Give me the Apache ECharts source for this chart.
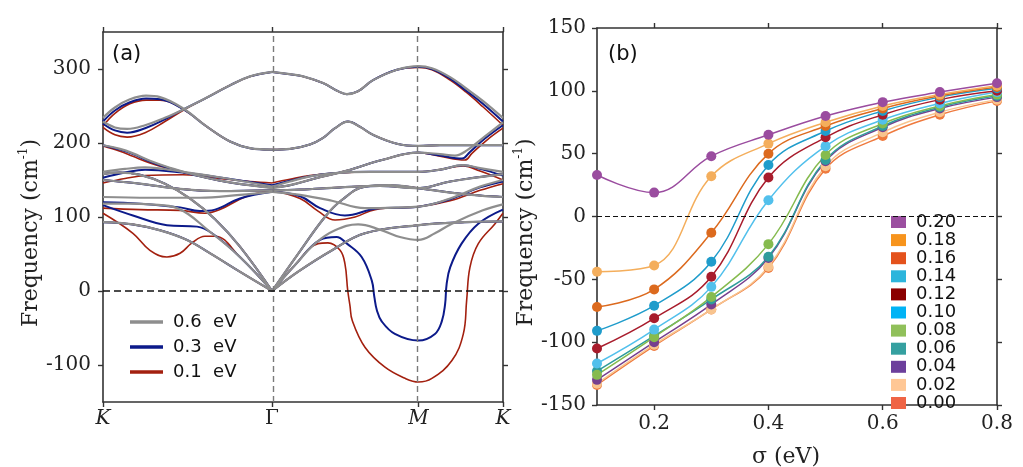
<!DOCTYPE html>
<html>
<head>
<meta charset="utf-8">
<script src="https://cdn.jsdelivr.net/npm/echarts@6/dist/echarts.min.js"></script>
<style>
  html, body { margin: 0; padding: 0; background: #fff; }
  #chart { width: 1023px; height: 467px; }
</style>
</head>
<body>
<div id="chart"></div>
<script>
// ---- (a) phonon bands along K-Γ-M-K, q in units of 2π/a ----
const qTicks = [0, 0.6667, 1.2440, 1.5774];
const qLabels = ['K', 'Γ', 'M', 'K'];
const freqTicksA = [-100, 0, 100, 200, 300];
const dopingA = ['0.6  eV', '0.3  eV', '0.1  eV'];

// bands shared by all three doping levels
const grayZA = [[0,93],[0.118,90],[0.225,82],[0.331,69],[0.422,51],[0.540,26],[0.667,0],[0.769,26],[0.903,55],[1.033,78],[1.244,89],[1.427,93],[1.577,94]];
const grayLA = [[0,158],[0.067,160],[0.146,157],[0.244,145],[0.343,125],[0.442,97],[0.540,60],[0.667,0],[0.769,50],[0.875,100],[0.942,123],[1.033,141],[1.132,143],[1.244,139],[1.369,133],[1.487,129],[1.577,127]];
const grayB9 = [[0,150],[0.146,145],[0.304,138],[0.461,135],[0.667,136],[0.777,137],[0.935,140],[1.092,142],[1.244,139],[1.369,148],[1.577,158]];

// 0.6 eV
const grayTA = [[0,118],[0.106,118],[0.185,117],[0.292,112],[0.422,80],[0.540,46],[0.667,0],[0.757,35],[0.836,64],[0.915,82],[1.006,90],[1.092,83],[1.171,73],[1.244,69],[1.309,78],[1.376,91],[1.498,109],[1.577,117]];
const grayB4 = [[0,127],[0.185,126],[0.382,126],[0.540,130],[0.667,134],[0.777,130],[0.903,122],[1.033,112],[1.244,114],[1.369,125],[1.487,141],[1.577,150]];
const grayB5 = [[0,161],[0.087,165],[0.166,167],[0.315,161],[0.489,152],[0.667,141],[0.737,148],[0.816,155],[0.903,159],[1.053,161],[1.244,161],[1.329,164],[1.420,170],[1.487,166],[1.577,161]];
const grayMid = [[0,197],[0.067,192],[0.118,186],[0.185,176],[0.252,168],[0.382,155],[0.513,146],[0.667,139],[0.737,143],[0.836,152],[0.966,163],[1.100,177],[1.244,187],[1.329,185],[1.388,183],[1.435,190],[1.506,209],[1.577,228]];
const grayUpper = [[0,234],[0.047,248],[0.106,259],[0.170,264],[0.225,262],[0.315,247],[0.410,222],[0.501,202],[0.580,193],[0.667,191],[0.737,192],[0.816,198],[0.868,207],[0.915,220],[0.966,229],[1.013,222],[1.065,211],[1.159,199],[1.244,196],[1.329,197],[1.447,197],[1.577,197]];
const grayTop = [[0,229],[0.047,221],[0.095,219],[0.166,224],[0.244,234],[0.315,245],[0.402,260],[0.501,278],[0.580,290],[0.667,296],[0.737,293],[0.789,290],[0.868,281],[0.927,270],[0.962,266],[1.006,270],[1.065,285],[1.159,299],[1.244,304],[1.297,301],[1.369,289],[1.431,274],[1.498,257],[1.577,234]];

// 0.3 eV
const blueTA = [[0,116],[0.118,102],[0.252,89],[0.371,87],[0.430,78],[0.540,46],[0.667,0],[0.757,35],[0.856,69],[0.921,73],[0.962,64],[1.020,46],[1.060,14],[1.070,-8],[1.080,-26],[1.099,-41],[1.151,-58],[1.244,-67],[1.309,-58],[1.336,-41],[1.349,-18],[1.355,9],[1.369,32],[1.414,64],[1.480,91],[1.577,110]];
const blueB4 = [[0,120],[0.146,118],[0.304,113],[0.382,108],[0.442,110],[0.540,125],[0.667,134],[0.777,128],[0.856,112],[0.954,102],[1.073,111],[1.244,114],[1.369,124],[1.487,140],[1.577,148]];
const blueB5 = [[0,153],[0.087,160],[0.166,164],[0.315,160],[0.489,152],[0.667,143],[0.737,149],[0.816,155],[0.903,159],[1.053,161],[1.244,161],[1.329,164],[1.420,170],[1.487,165],[1.577,156]];
const blueMid = [[0,197],[0.067,191],[0.118,185],[0.185,175],[0.252,167],[0.382,155],[0.513,146],[0.667,140],[0.737,143],[0.836,152],[0.966,163],[1.100,177],[1.244,187],[1.329,183],[1.416,179],[1.447,188],[1.506,206],[1.577,224]];
const blueUpper = [[0,229],[0.047,244],[0.106,255],[0.170,260],[0.225,259],[0.315,246],[0.410,222],[0.501,202],[0.580,193],[0.667,191],[0.737,192],[0.816,198],[0.868,207],[0.915,220],[0.966,229],[1.013,222],[1.065,211],[1.159,199],[1.244,196],[1.329,197],[1.447,197],[1.577,197]];
const blueTop = [[0,226],[0.047,217],[0.095,214],[0.166,220],[0.244,232],[0.315,245],[0.402,260],[0.501,278],[0.580,290],[0.667,296],[0.737,293],[0.789,290],[0.868,281],[0.927,270],[0.962,266],[1.006,270],[1.065,285],[1.159,299],[1.244,303],[1.297,300],[1.369,287],[1.431,271],[1.498,253],[1.577,229]];

// 0.1 eV
const redTA = [[0,105],[0.118,78],[0.185,55],[0.252,46],[0.304,51],[0.351,65],[0.402,74],[0.442,74],[0.540,46],[0.667,0],[0.757,35],[0.848,64],[0.887,65],[0.935,55],[0.954,37],[0.965,1],[0.974,-20],[0.983,-40],[1.033,-76],[1.112,-103],[1.191,-118],[1.244,-123],[1.297,-118],[1.376,-94],[1.421,-58],[1.434,-13],[1.447,32],[1.480,64],[1.546,91],[1.577,105]];
const redB4 = [[0,112],[0.146,110],[0.304,109],[0.402,105],[0.461,110],[0.560,127],[0.667,136],[0.777,125],[0.848,108],[0.915,96],[0.994,100],[1.073,110],[1.244,114],[1.369,122],[1.487,136],[1.577,145]];
const redB5 = [[0,146],[0.087,152],[0.166,156],[0.315,157],[0.489,151],[0.580,148],[0.667,146],[0.737,151],[0.816,156],[0.903,159],[1.053,161],[1.244,161],[1.329,164],[1.420,169],[1.487,162],[1.577,150]];
const redMid = [[0,196],[0.067,189],[0.118,182],[0.185,173],[0.252,166],[0.382,155],[0.513,146],[0.667,140],[0.737,143],[0.836,152],[0.966,163],[1.100,177],[1.244,187],[1.329,182],[1.427,177],[1.455,186],[1.514,204],[1.577,220]];
const redUpper = [[0,223],[0.047,240],[0.106,253],[0.170,258],[0.225,258],[0.315,246],[0.410,222],[0.501,202],[0.580,193],[0.667,191],[0.737,192],[0.816,198],[0.868,207],[0.915,220],[0.966,229],[1.013,222],[1.065,211],[1.159,199],[1.244,196],[1.329,197],[1.447,197],[1.577,197]];
const redTop = [[0,221],[0.047,211],[0.095,208],[0.166,214],[0.244,229],[0.315,244],[0.402,260],[0.501,278],[0.580,290],[0.667,296],[0.737,293],[0.789,290],[0.868,281],[0.927,270],[0.962,266],[1.006,270],[1.065,285],[1.159,299],[1.244,302],[1.297,299],[1.369,285],[1.431,269],[1.498,249],[1.577,224]];

const grayBands = [grayZA, grayTA, grayLA, grayB4, grayB9, grayB5, grayMid, grayUpper, grayTop];
const blueBands = [grayZA, blueTA, grayLA, blueB4, grayB9, blueB5, blueMid, blueUpper, blueTop];
const redBands = [grayZA, redTA, grayLA, redB4, grayB9, redB5, redMid, redUpper, redTop];

// ---- (b) soft-mode frequency vs smearing ----
const sigma = [0.1, 0.2, 0.3, 0.4, 0.5, 0.6, 0.7, 0.8];
const sigmaTicks = [0.2, 0.4, 0.6, 0.8];
const f000 = [-134, -103, -74, -41, 38, 64, 81, 92];
const f002 = [-133, -102, -74, -40, 40, 67, 83, 93];
const f004 = [-130, -100, -70, -33, 44, 71, 86, 95];
const f006 = [-123, -95, -66, -32, 45, 72, 87, 96];
const f008 = [-126, -96, -64, -22, 49, 74, 88, 97];
const f010 = [-117, -90, -56, 13, 56, 77, 90, 99];
const f012 = [-105, -81, -48, 31, 63, 81, 93, 100];
const f014 = [-91, -71, -36, 41, 68, 84, 95, 102];
const f016 = [-72, -58, -13, 50, 72, 86, 96, 103];
const f018 = [-44, -39, 32, 58, 75, 88, 97, 104];
const f020 = [33, 19, 48, 65, 80, 91, 99, 106];
const dopingB = ['0.00', '0.02', '0.04', '0.06', '0.08', '0.10', '0.12', '0.14', '0.16', '0.18', '0.20'];
const seriesB = [f000, f002, f004, f006, f008, f010, f012, f014, f016, f018, f020];
const lineColB = ['#ef7a3e', '#f8c48e', '#76408f', '#2f9c9c', '#86bb4f', '#52c0ec', '#a81c2c', '#1f9ccb', '#dc6a1e', '#f4ae5c', '#9a4c9f'];
const swatchB = ['#ef6445', '#ffc795', '#6c3f9c', '#35a0a0', '#90c05a', '#00b3f5', '#8b0000', '#2cb5dc', '#e4521c', '#f7941d', '#9b4fa0'];

const serif = 'DejaVu Serif';
const sans = 'DejaVu Sans';
const ink = '#222';
const frame = '#333';

function qName(v) {
    const i = qTicks.findIndex(t => Math.abs(t - v) < 1e-3);
    if (i < 0) return '';
    return i === 1 ? '{g|Γ}' : '{k|' + qLabels[i] + '}';
}

// acoustic branches have a kink at Γ, so each band is drawn as two pieces
function splitAtGamma(b) {
    const g = qTicks[1];
    return [b.filter(p => p[0] <= g + 1e-3), b.filter(p => p[0] >= g - 1e-3)];
}

function boxAxis(extra) {
    return Object.assign({
        type: 'value',
        axisLine: { show: true, onZero: false, lineStyle: { color: frame, width: 1.6 } },
        axisTick: { show: true, length: 5, lineStyle: { color: frame, width: 1.4 } },
        axisLabel: { show: false },
        splitLine: { show: false }
    }, extra);
}

const freqName = {
    name: '{t|Frequency (cm}{s|-1}{t|)}',
    nameLocation: 'middle',
    nameTextStyle: {
        padding: [0, 32, 0, 0],
        rich: {
            t: { fontFamily: serif, fontSize: 22, color: ink, lineHeight: 26 },
            s: { fontFamily: serif, fontSize: 12, color: ink, lineHeight: 12, verticalAlign: 'top' }
        }
    }
};

const series = [];

// Γ and M guides
series.push({
    type: 'line', xAxisIndex: 0, yAxisIndex: 0, data: [], silent: true,
    markLine: {
        silent: true, symbol: ['none', 'none'], label: { show: false }, animation: false,
        lineStyle: { color: '#7a7a7a', type: [6, 4], width: 1.4 },
        data: [{ xAxis: qTicks[1] }, { xAxis: qTicks[2] }]
    }
});

[[redBands, dopingA[2], '#a3200f', 1.6], [blueBands, dopingA[1], '#0c1a8a', 2], [grayBands, dopingA[0], '#8e8e8e', 2.2]].forEach(([bands, name, color, width]) => {
    bands.forEach(b => {
        splitAtGamma(b).forEach(piece => {
            series.push({
                type: 'line', name: name, xAxisIndex: 0, yAxisIndex: 0,
                data: piece, smooth: 0.4, showSymbol: false, symbol: 'none',
                lineStyle: { color: color, width: width }, itemStyle: { color: color }
            });
        });
    });
});

series.push({
    type: 'line', xAxisIndex: 0, yAxisIndex: 0, data: [], silent: true,
    markLine: {
        silent: true, symbol: ['none', 'none'], label: { show: false }, animation: false,
        lineStyle: { color: '#111', type: [7, 4], width: 1.6 },
        data: [{ yAxis: 0 }]
    }
});

series.push({
    type: 'line', xAxisIndex: 2, yAxisIndex: 2, data: [], silent: true,
    markLine: {
        silent: true, symbol: ['none', 'none'], label: { show: false }, animation: false,
        lineStyle: { color: '#111', type: [5, 3], width: 1 },
        data: [{ yAxis: 0 }]
    }
});

seriesB.forEach((vals, i) => {
    series.push({
        type: 'line', name: dopingB[i], xAxisIndex: 2, yAxisIndex: 2,
        data: sigma.map((s, j) => [s, vals[j]]),
        smooth: 0.4, symbol: 'circle', symbolSize: 10,
        lineStyle: { color: lineColB[i], width: 1.5 },
        itemStyle: { color: lineColB[i] }
    });
});

const chart = echarts.init(document.getElementById('chart'), null, { renderer: 'canvas' });
chart.setOption({
    animation: false,
    backgroundColor: '#fff',
    title: [
        { text: '(a)', left: 107, top: 39, textStyle: { fontFamily: sans, fontSize: 21, fontWeight: 'normal', color: '#111' } },
        { text: '(b)', left: 603, top: 39, textStyle: { fontFamily: sans, fontSize: 21, fontWeight: 'normal', color: '#111' } }
    ],
    legend: [
        {
            data: dopingA.map(n => ({ name: n, icon: 'rect' })),
            orient: 'vertical', left: 130, top: 312, padding: 0,
            itemWidth: 33, itemHeight: 3.5, itemGap: 5, selectedMode: false,
            textStyle: { fontFamily: sans, fontSize: 18, color: '#111', lineHeight: 20, padding: [0, 0, 0, 5] }
        },
        {
            data: dopingB.slice().reverse().map(n => ({ name: n, icon: 'rect', itemStyle: { color: swatchB[dopingB.indexOf(n)] } })),
            orient: 'vertical', left: 891, top: 213, padding: 0,
            itemWidth: 15, itemHeight: 12, itemGap: 0.1, selectedMode: false,
            textStyle: { fontFamily: sans, fontSize: 18, color: '#111', lineHeight: 17, padding: [0, 0, 0, 5] }
        }
    ],
    grid: [
        { left: 103, top: 32, width: 400, height: 370, outerBoundsMode: 'none' },
        { left: 597, top: 28, width: 400, height: 377, outerBoundsMode: 'none' }
    ],
    xAxis: [
        boxAxis({
            gridIndex: 0, position: 'bottom', min: 0, max: qTicks[3],
            axisTick: { show: true, length: 5, customValues: qTicks, lineStyle: { color: frame, width: 1.4 } },
            axisLabel: {
                show: true, customValues: qTicks, margin: 7, formatter: qName,
                showMinLabel: true, showMaxLabel: true,
                rich: {
                    k: { fontFamily: serif, fontSize: 20, fontStyle: 'italic', color: ink },
                    g: { fontFamily: serif, fontSize: 20, color: ink }
                }
            }
        }),
        boxAxis({
            gridIndex: 0, position: 'top', min: 0, max: qTicks[3],
            axisTick: { show: true, length: 5, customValues: qTicks, lineStyle: { color: frame, width: 1.4 } }
        }),
        boxAxis({
            gridIndex: 1, position: 'bottom', min: 0.1, max: 0.8,
            name: 'σ (eV)', nameLocation: 'middle', nameGap: 41,
            nameTextStyle: { fontFamily: serif, fontSize: 22, color: ink, padding: [0, 22, 0, 0] },
            axisTick: { show: true, length: 5, customValues: sigmaTicks, lineStyle: { color: frame, width: 1.4 } },
            axisLabel: {
                show: true, customValues: sigmaTicks, margin: 9,
                fontFamily: serif, fontSize: 20, color: ink,
                showMinLabel: true, showMaxLabel: true,
                formatter: v => v.toFixed(1)
            }
        }),
        boxAxis({
            gridIndex: 1, position: 'top', min: 0.1, max: 0.8,
            axisTick: { show: true, length: 5, customValues: sigmaTicks, lineStyle: { color: frame, width: 1.4 } }
        })
    ],
    yAxis: [
        boxAxis(Object.assign({
            gridIndex: 0, position: 'left', min: -150, max: 350, nameGap: 58,
            axisTick: { show: true, length: 5, customValues: freqTicksA, lineStyle: { color: frame, width: 1.4 } },
            axisLabel: { show: true, customValues: freqTicksA, margin: 12, fontFamily: serif, fontSize: 20, color: ink }
        }, freqName)),
        boxAxis({
            gridIndex: 0, position: 'right', min: -150, max: 350,
            axisTick: { show: true, length: 5, customValues: freqTicksA, lineStyle: { color: frame, width: 1.4 } }
        }),
        boxAxis(Object.assign({
            gridIndex: 1, position: 'left', min: -150, max: 150, interval: 50, nameGap: 55,
            axisLabel: { show: true, margin: 11, fontFamily: serif, fontSize: 20, color: ink }
        }, freqName)),
        boxAxis({
            gridIndex: 1, position: 'right', min: -150, max: 150, interval: 50
        })
    ],
    series: series
});
</script>
</body>
</html>
